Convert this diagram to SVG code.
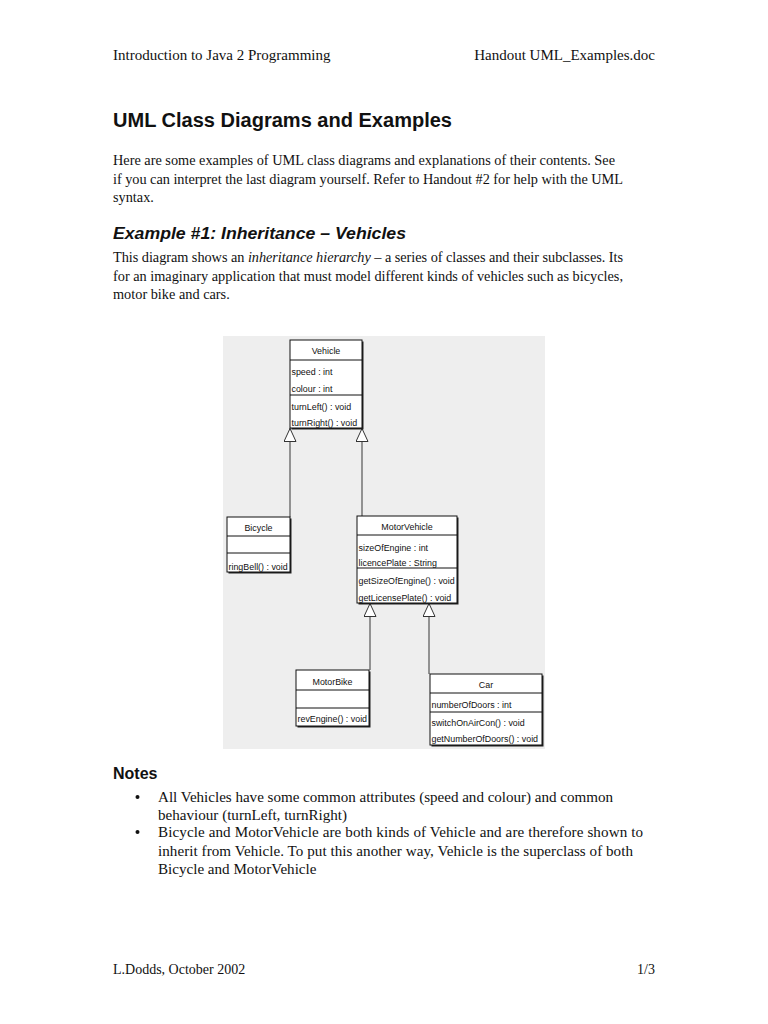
<svg xmlns="http://www.w3.org/2000/svg" width="768" height="1024" viewBox="0 0 768 1024">
<defs>
<style>
.serif{font-family:"Liberation Serif","Times New Roman",serif;font-size:14.3px;fill:#111}
.hdr{font-size:15px}
.bul{font-size:15.1px}
.foot{font-size:14px}
.h1{font-family:"Liberation Sans",Arial,sans-serif;font-size:20px;font-weight:bold;fill:#111}
.h2{font-family:"Liberation Sans",Arial,sans-serif;font-size:17px;font-weight:bold;font-style:italic;fill:#111}
.h3{font-family:"Liberation Sans",Arial,sans-serif;font-size:16px;font-weight:bold;fill:#111}
.box{fill:#fff;stroke:#111;stroke-width:1}
.shadow{fill:#222}
.div{stroke:#111;stroke-width:1}
.t{font-family:"Liberation Sans",Arial,sans-serif;font-size:8.9px;fill:#111}
.c{text-anchor:middle}
.conn{stroke:#555;stroke-width:1.2;fill:none}
</style>
<marker id="inh" viewBox="0 0 14 13" refX="14" refY="6.5" markerWidth="14" markerHeight="13" markerUnits="userSpaceOnUse" orient="auto">
<path d="M0.5,0.5 L13.5,6.5 L0.5,12.5 Z" fill="#fff" stroke="#333" stroke-width="1"/>
</marker>
</defs>
<rect width="768" height="1024" fill="#fff"/>

<text class="serif hdr" x="113" y="60">Introduction to Java 2 Programming</text>
<text class="serif hdr" x="655" y="60" text-anchor="end">Handout UML_Examples.doc</text>

<text class="h1" x="113" y="127" textLength="339" lengthAdjust="spacingAndGlyphs">UML Class Diagrams and Examples</text>

<text class="serif" x="113" y="165" textLength="502" lengthAdjust="spacing">Here are some examples of UML class diagrams and explanations of their contents. See</text>
<text class="serif" x="113" y="184" textLength="510" lengthAdjust="spacing">if you can interpret the last diagram yourself. Refer to Handout #2 for help with the UML</text>
<text class="serif" x="113" y="202">syntax.</text>

<text class="h2" x="113" y="239" textLength="293" lengthAdjust="spacingAndGlyphs">Example #1: Inheritance – Vehicles</text>

<text class="serif" x="113" y="262" textLength="510" lengthAdjust="spacing">This diagram shows an <tspan font-style="italic">inheritance hierarchy</tspan> – a series of classes and their subclasses. Its</text>
<text class="serif" x="113" y="281" textLength="510" lengthAdjust="spacing">for an imaginary application that must model different kinds of vehicles such as bicycles,</text>
<text class="serif" x="113" y="299">motor bike and cars.</text>

<rect x="223" y="336" width="322" height="413" fill="#eeeeee"/>

<g id="connectors">
<line class="conn" x1="290" y1="517" x2="290" y2="428" marker-end="url(#inh)"/>
<line class="conn" x1="362" y1="516" x2="362" y2="428" marker-end="url(#inh)"/>
<line class="conn" x1="370" y1="670" x2="370" y2="603" marker-end="url(#inh)"/>
<line class="conn" x1="429" y1="674" x2="429" y2="603" marker-end="url(#inh)"/>
</g>

<g id="Vehicle">
<rect class="shadow" x="291.5" y="341.5" width="72" height="88"/>
<rect class="box" x="290" y="340" width="72" height="88"/>
<line class="div" x1="290" y1="360" x2="362" y2="360"/>
<line class="div" x1="290" y1="395" x2="362" y2="395"/>
<text class="t c" x="326" y="353.5">Vehicle</text>
<text class="t" x="291.5" y="374.5">speed : int</text>
<text class="t" x="291.5" y="391.5">colour : int</text>
<text class="t" x="291.5" y="409.5">turnLeft() : void</text>
<text class="t" x="291.5" y="425.5">turnRight() : void</text>
</g>

<g id="Bicycle">
<rect class="shadow" x="228.5" y="518.5" width="63" height="55"/>
<rect class="box" x="227" y="517" width="63" height="55"/>
<line class="div" x1="227" y1="536" x2="290" y2="536"/>
<line class="div" x1="227" y1="553" x2="290" y2="553"/>
<text class="t c" x="258.5" y="530.5">Bicycle</text>
<text class="t" x="228.5" y="569.5">ringBell() : void</text>
</g>

<g id="MotorVehicle">
<rect class="shadow" x="358.5" y="517.5" width="100" height="87"/>
<rect class="box" x="357" y="516" width="100" height="87"/>
<line class="div" x1="357" y1="535" x2="457" y2="535"/>
<line class="div" x1="357" y1="568" x2="457" y2="568"/>
<text class="t c" x="407" y="529.5">MotorVehicle</text>
<text class="t" x="358.5" y="550.5">sizeOfEngine : int</text>
<text class="t" x="358.5" y="566">licencePlate : String</text>
<text class="t" x="358.5" y="583.5">getSizeOfEngine() : void</text>
<text class="t" x="358.5" y="600.5">getLicensePlate() : void</text>
</g>

<g id="MotorBike">
<rect class="shadow" x="297.5" y="671.5" width="73" height="56"/>
<rect class="box" x="296" y="670" width="73" height="56"/>
<line class="div" x1="296" y1="690" x2="369" y2="690"/>
<line class="div" x1="296" y1="708" x2="369" y2="708"/>
<text class="t c" x="332.5" y="684.5">MotorBike</text>
<text class="t" x="297.5" y="721.5">revEngine() : void</text>
</g>

<g id="Car">
<rect class="shadow" x="431.5" y="675.5" width="112" height="71"/>
<rect class="box" x="430" y="674" width="112" height="71"/>
<line class="div" x1="430" y1="693" x2="542" y2="693"/>
<line class="div" x1="430" y1="712" x2="542" y2="712"/>
<text class="t c" x="486" y="687.5">Car</text>
<text class="t" x="431.5" y="707.5">numberOfDoors : int</text>
<text class="t" x="431.5" y="725.5">switchOnAirCon() : void</text>
<text class="t" x="431.5" y="741.5">getNumberOfDoors() : void</text>
</g>

<text class="h3" x="113" y="779">Notes</text>
<circle cx="137.5" cy="797" r="2" fill="#111"/>
<text class="serif bul" x="158" y="802" textLength="455" lengthAdjust="spacing">All Vehicles have some common attributes (speed and colour) and common</text>
<text class="serif bul" x="158" y="820">behaviour (turnLeft, turnRight)</text>
<circle cx="137.5" cy="832" r="2" fill="#111"/>
<text class="serif bul" x="158" y="837" textLength="485" lengthAdjust="spacing">Bicycle and MotorVehicle are both kinds of Vehicle and are therefore shown to</text>
<text class="serif bul" x="158" y="856" textLength="475" lengthAdjust="spacing">inherit from Vehicle. To put this another way, Vehicle is the superclass of both</text>
<text class="serif bul" x="158" y="874">Bicycle and MotorVehicle</text>

<text class="serif foot" x="113" y="974">L.Dodds, October 2002</text>
<text class="serif foot" x="655" y="974" text-anchor="end">1/3</text>
</svg>
